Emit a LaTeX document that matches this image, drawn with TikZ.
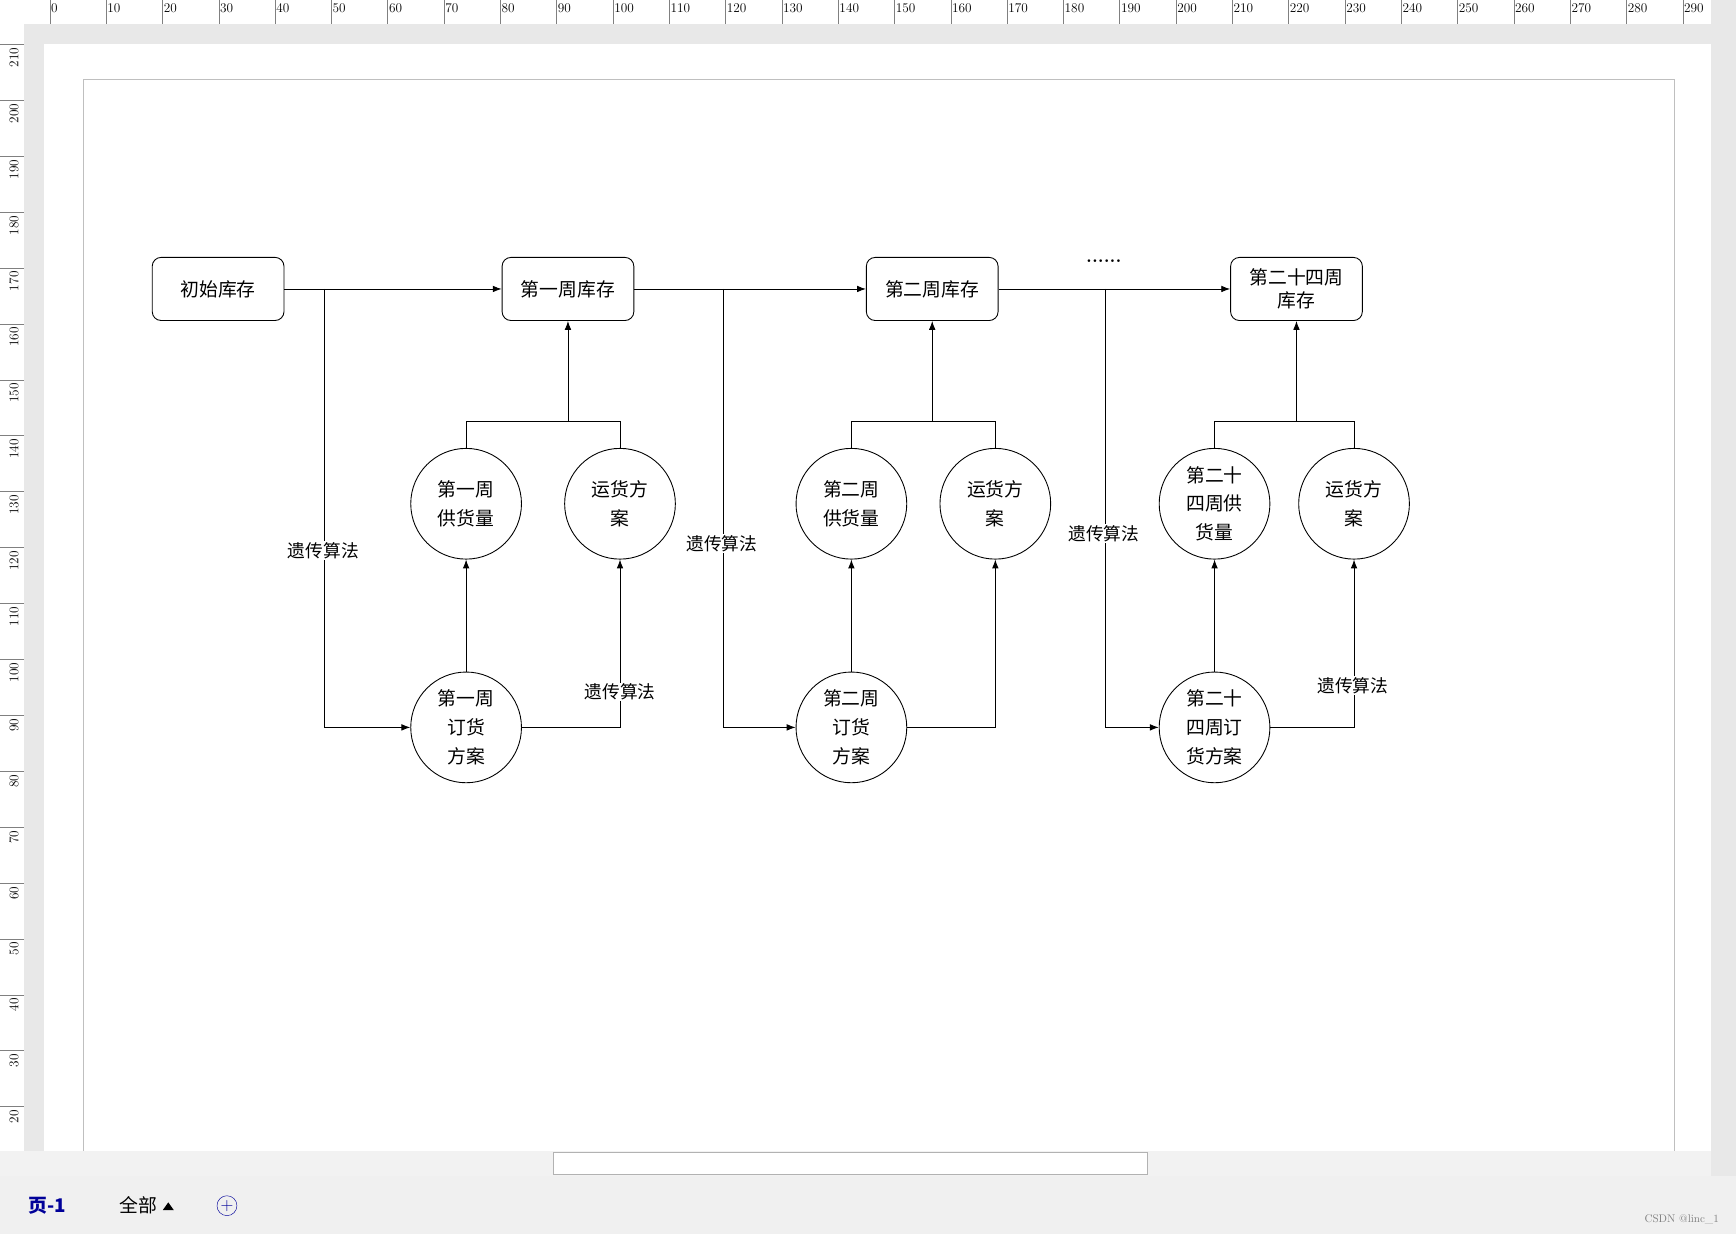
\documentclass[tikz,border=0pt]{standalone}
\usepackage{fontspec}
\newfontfamily\cjk{Noto Sans CJK SC}
\usetikzlibrary{arrows.meta}
\begin{document}
\begin{tikzpicture}[x=1pt,y=-1pt,
  box/.style={draw,thick,rounded corners=8pt,minimum width=119pt,minimum height=57pt,align=center,font=\cjk\fontsize{17}{21}\selectfont},
  circ/.style={draw,thick,circle,minimum size=100pt,inner sep=0pt,align=center,font=\cjk\fontsize{17}{26}\selectfont},
  lbl/.style={fill=white,inner sep=1pt,font=\cjk\fontsize{16}{20}\selectfont},
  ar/.style={thick,-{Latex[length=8pt,width=6pt]}},
  ln/.style={thick}]
\useasboundingbox (0,0) rectangle (1568,1115);
\fill[gray!18] (0,0) rectangle (1568,1115);
\fill[white] (0,0) rectangle (1545,22);
\fill[white] (0,22) rectangle (22,1040);
\foreach \i in {0,...,29}{\pgfmathtruncatemacro\v{10*\i}
  \draw[gray] (45+50.86*\i,0)--(45+50.86*\i,22);
  \node[anchor=north west,inner sep=1pt,font=\fontsize{12}{12}\selectfont] at (45+50.86*\i,2) {\v};}
\foreach \i in {0,...,19}{\pgfmathtruncatemacro\v{210-10*\i}
  \draw[gray] (0,40+50.5*\i)--(22,40+50.5*\i);
  \node[rotate=90,anchor=south east,inner sep=1pt,font=\fontsize{12}{12}\selectfont] at (18,42+50.5*\i) {\v};}
\fill[white] (40,40) rectangle (1545,1040);
\draw[gray!50] (75,72) rectangle (1512,1040);
\fill[gray!10] (0,1040) rectangle (1545,1062);
\draw[gray!60,fill=white] (500,1041) rectangle (1036,1061);
\fill[gray!12] (0,1062) rectangle (1568,1115);
\node[font=\cjk\bfseries\fontsize{17}{17}\selectfont,text=blue!60!black] at (43,1089) {页-1};
\node[font=\cjk\fontsize{17}{17}\selectfont] at (125,1089) {全部};
\fill (147,1093)--(157,1093)--(152,1086)--cycle;
\draw[blue!60!black] (205,1089) circle (9pt);
\node[font=\fontsize{16}{16}\selectfont,text=blue!60!black] at (205,1089) {+};
\node[font=\fontsize{10}{10}\selectfont,text=gray,anchor=east] at (1556,1101) {CSDN @linc\_1};

\node[box] (b0) at (197,261) {初始库存};
\node[box] (b1) at (513,261) {第一周库存};
\node[box] (b2) at (842,261) {第二周库存};
\node[box] (b3) at (1171,261) {第二十四周\\库存};
\node[font=\bfseries\fontsize{17}{17}\selectfont] at (997,236) {......};

\node[circ] (s1) at (421,455) {第一周\\供货量};
\node[circ] (t1) at (560,455) {运货方\\案};
\node[circ] (o1) at (421,657) {第一周\\订货\\方案};
\node[circ] (s2) at (769,455) {第二周\\供货量};
\node[circ] (t2) at (899,455) {运货方\\案};
\node[circ] (o2) at (769,657) {第二周\\订货\\方案};
\node[circ] (s3) at (1097,455) {第二十\\四周供\\货量};
\node[circ] (t3) at (1223,455) {运货方\\案};
\node[circ] (o3) at (1097,657) {第二十\\四周订\\货方案};

\draw[ar] (b0.east)--(b1.west);
\draw[ar] (b1.east)--(b2.west);
\draw[ar] (b2.east)--(b3.west);
\draw[ar] (293,261)--(293,657)--(o1.west);
\draw[ar] (653,261)--(653,657)--(o2.west);
\draw[ar] (998,261)--(998,657)--(o3.west);
\node[lbl] at (292,497) {遗传算法};
\node[lbl] at (652,491) {遗传算法};
\node[lbl] at (997,482) {遗传算法};

\foreach \s/\t/\o/\b in {s1/t1/o1/b1,s2/t2/o2/b2,s3/t3/o3/b3}{
  \draw[ln] (\s.north)--(\s.north|-0,381)--(\t.north|-0,381)--(\t.north);
  \draw[ar] (\b.south|-0,381)--(\b.south);
  \draw[ar] (\o.north)--(\s.south);
  \draw[ar] (\o.east)-|(\t.south);
}
\node[lbl] at (560,625) {遗传算法};
\node[lbl] at (1222,619) {遗传算法};
\end{tikzpicture}
\end{document}
